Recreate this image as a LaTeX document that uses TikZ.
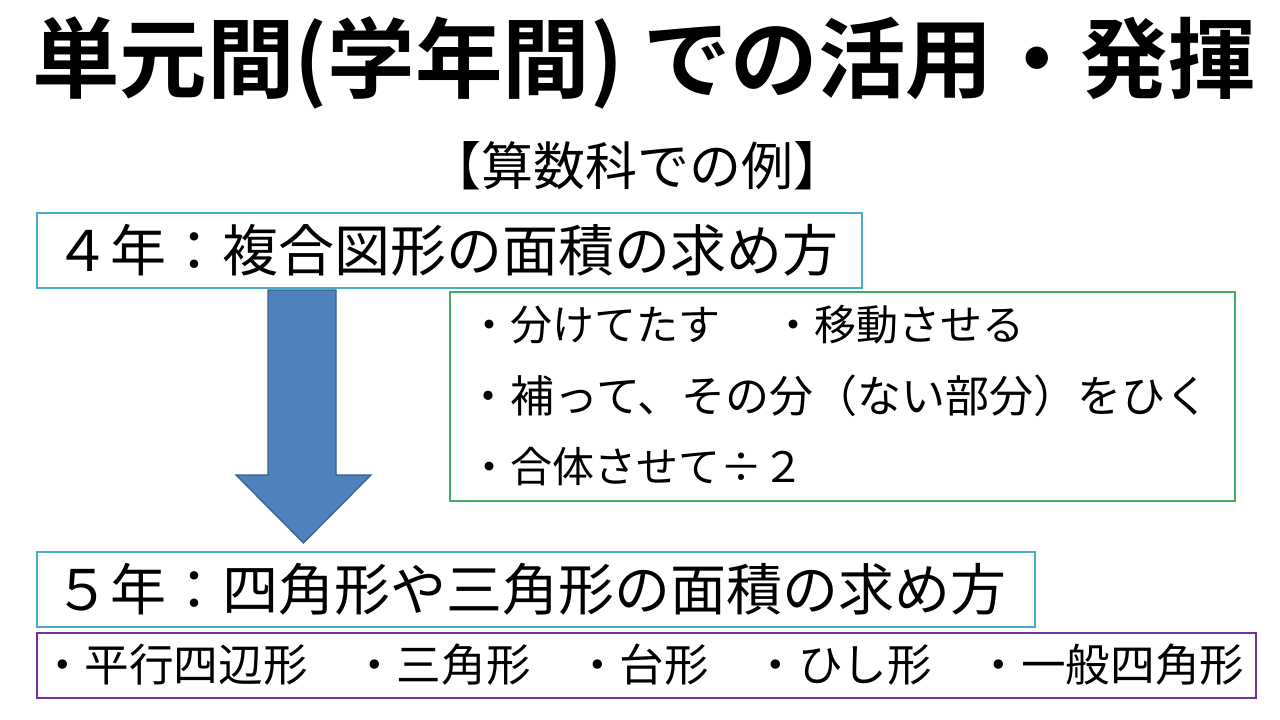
\documentclass[tikz,border=0pt]{standalone}
\usepackage{fontspec}
\newfontfamily\jp{Noto Sans CJK JP}
\newfontfamily\jpb{Noto Sans CJK JP Bold}
\definecolor{boxcyan}{RGB}{75,172,198}
\definecolor{boxgreen}{RGB}{70,172,100}
\definecolor{boxpurple}{RGB}{112,48,160}
\definecolor{arrfill}{RGB}{79,129,189}
\definecolor{arrline}{RGB}{56,93,138}
\tikzset{
  framebox/.style={draw, line width=1.6pt, rectangle, anchor=north west, inner ysep=0pt, align=left, font=\jp},
  cyanbox/.style={framebox, draw=boxcyan},
  greenbox/.style={framebox, draw=boxgreen},
  purplebox/.style={framebox, draw=boxpurple},
  bigarrow/.style={fill=arrfill, draw=arrline, line width=1.2pt, line join=miter}
}
\begin{document}
\begin{tikzpicture}[x=1pt,y=-1pt]
\useasboundingbox (0,0) rectangle (1280,720);
\fill[white] (0,0) rectangle (1280,720);
% title
\node[font=\jpb\fontsize{87.5}{90}\selectfont, inner sep=0pt] (title) at (644,63) {単元間(学年間) での活用・発揮};
\node[font=\jp\fontsize{52}{56}\selectfont, inner sep=0pt] (sub) at (637,166) {【算数科での例】};
% box 4th grade
\node[cyanbox, minimum height=75pt, inner xsep=18pt, text width=789pt, font=\jp\fontsize{56}{60}\selectfont] (b4) at (36,212) {４年：複合図形の面積の求め方};
% green box
\node[greenbox, minimum height=209pt, minimum width=785pt, inner sep=0pt] (g) at (449,291) {};
\node[anchor=west, inner sep=0pt, font=\jp\fontsize{42}{46}\selectfont] (g1) at (468,325) {・分けてたす\hspace{1.25em}・移動させる};
\node[anchor=west, inner sep=0pt, font=\jp\fontsize{44}{48}\selectfont] (g2) at (466,396) {・補って、その分（ない部分）をひく};
\node[anchor=west, inner sep=0pt, font=\jp\fontsize{42}{46}\selectfont] (g3) at (468,467) {・合体させて÷２};
% box 5th grade
\node[cyanbox, minimum height=75pt, inner xsep=18pt, text width=962pt, font=\jp\fontsize{56}{60}\selectfont] (b5) at (36,551) {５年：四角形や三角形の面積の求め方};
% purple box
\node[purplebox, minimum height=65pt, minimum width=1219pt, inner sep=0pt] (p) at (36,632) {};
\node[anchor=west, inner sep=0pt, font=\jp\fontsize{44.6}{48}\selectfont] (p1) at (40,665) {・平行四辺形　・三角形　・台形　・ひし形　・一般四角形};
% arrow
\draw[bigarrow] (268,290) -- (336,290) -- (336,475) -- (371,475) -- (303.5,543) -- (236,475) -- (268,475) -- cycle;
\end{tikzpicture}
\end{document}
